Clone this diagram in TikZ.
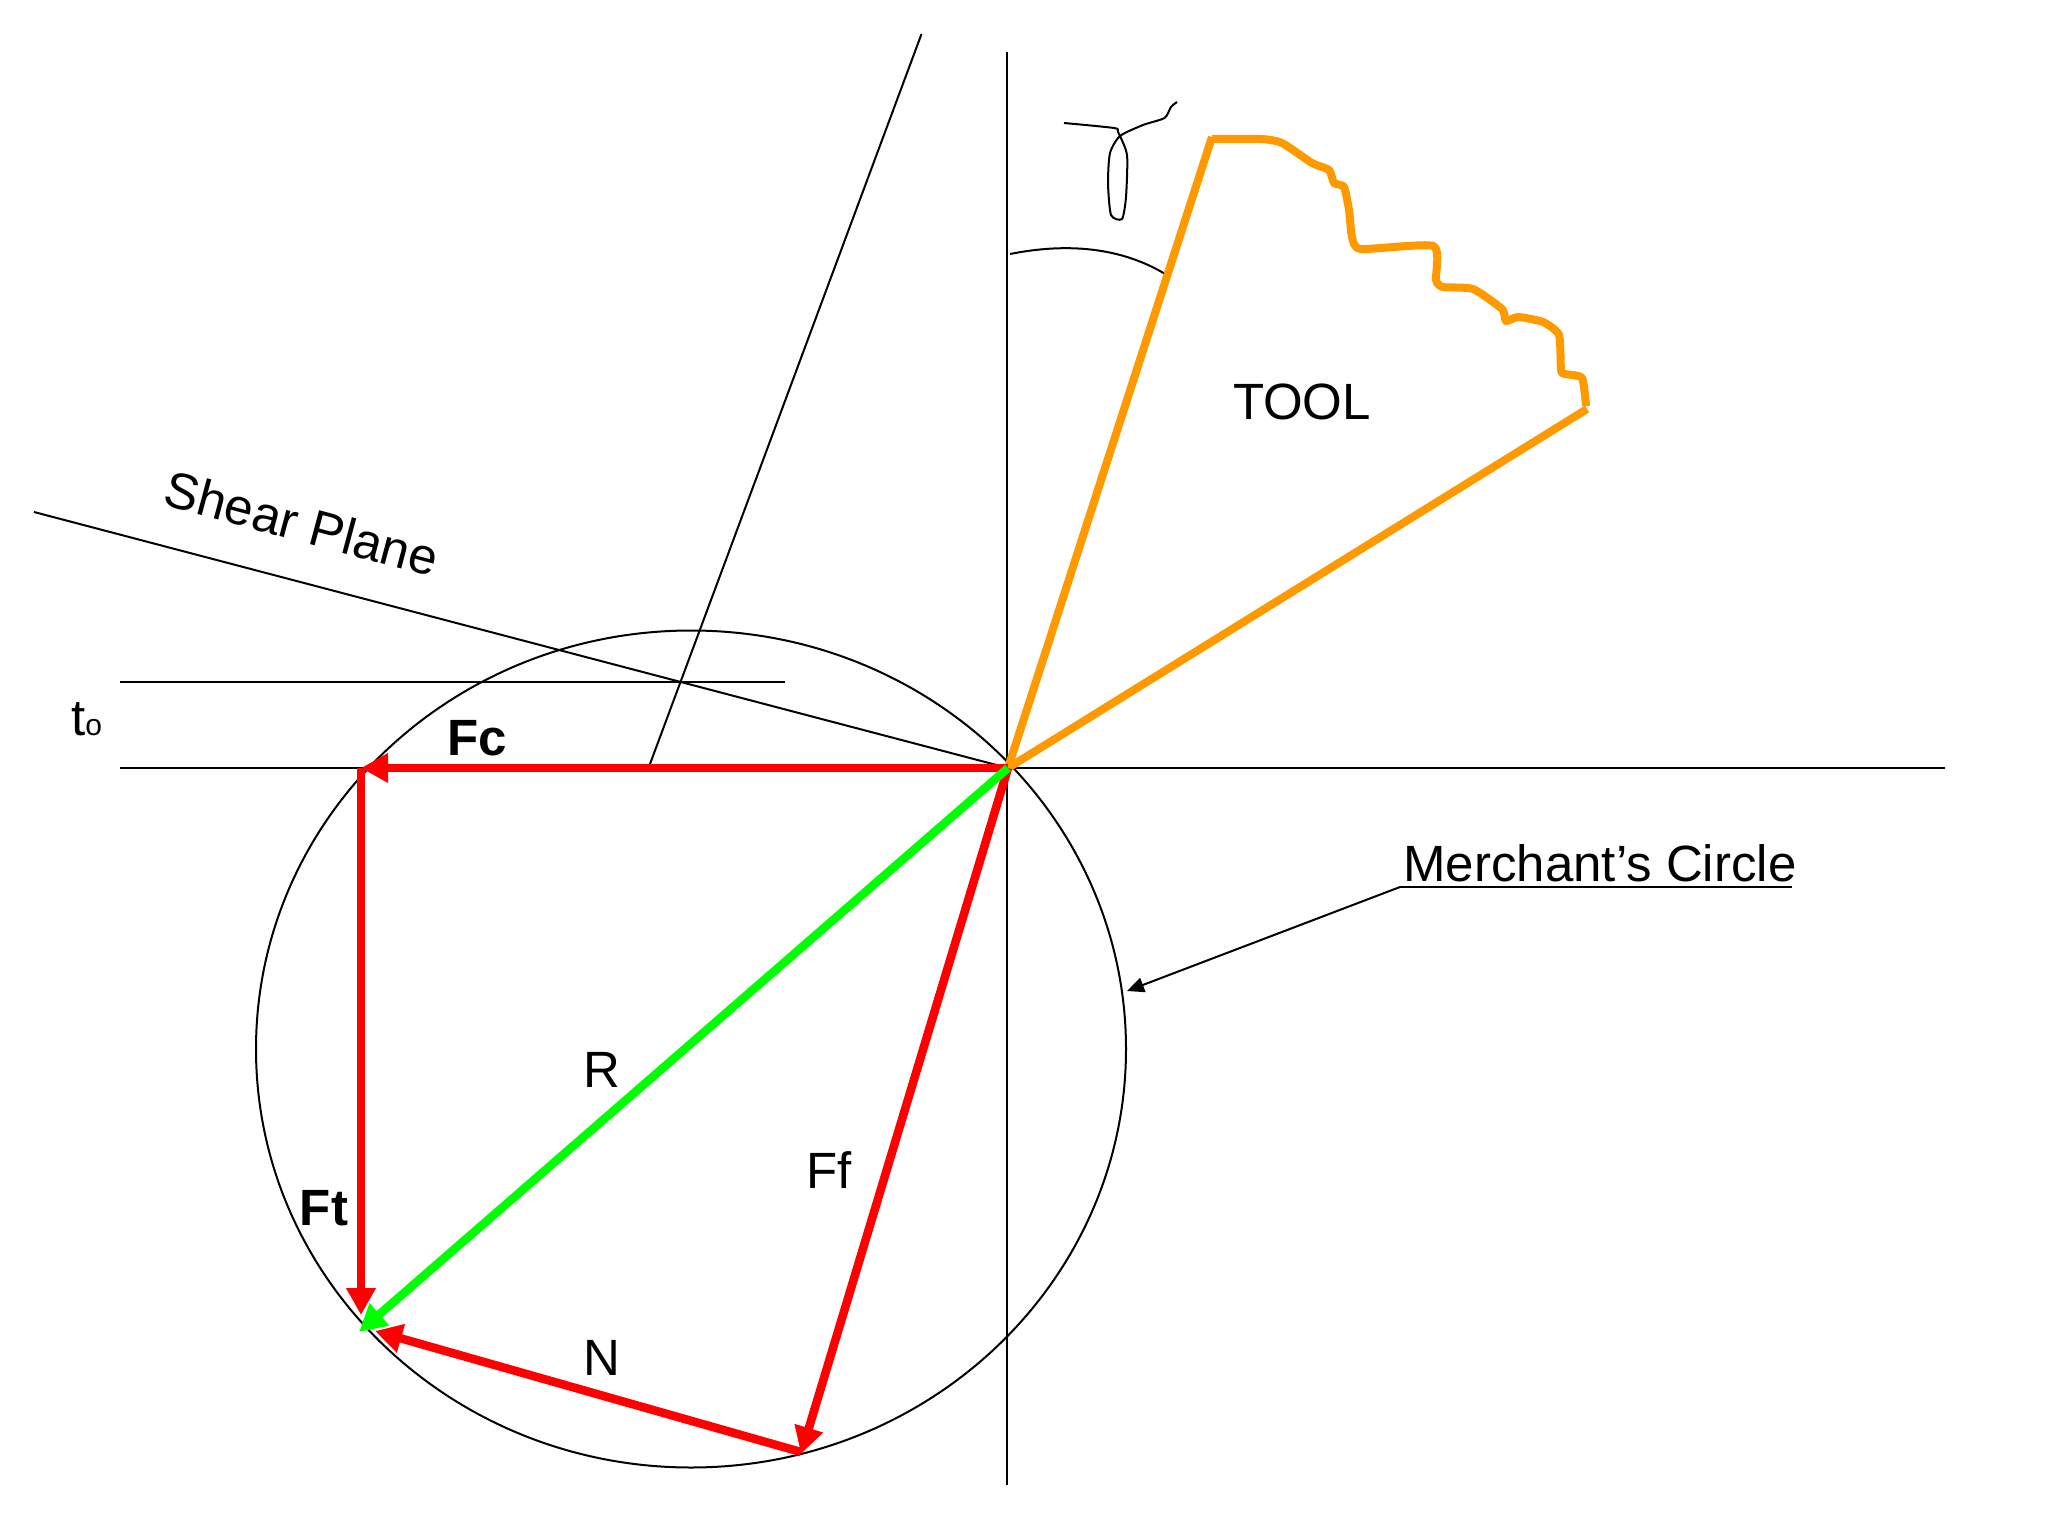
\documentclass[tikz,border=0pt]{standalone}
\usepackage{fontspec}
\setmainfont{Liberation Sans}
\usetikzlibrary{arrows.meta}
\definecolor{toolorange}{HTML}{FF9900}
\definecolor{forcered}{HTML}{FF0000}
\definecolor{forcegreen}{HTML}{00FF00}
\tikzset{
  x=1pt,y=-1pt,
  thinline/.style={draw=black,line width=2pt},
  toolline/.style={draw=toolorange,line width=8pt,line join=round},
  force/.style={line width=8.5pt,-{Triangle[length=27pt,width=28pt]}},
  txtlabel/.style={font=\fontsize{51}{60}\selectfont,inner sep=0pt,anchor=base,text=black},
  boldlabel/.style={txtlabel,font=\fontsize{51}{60}\selectfont\bfseries},
}
\begin{document}
\begin{tikzpicture}
\useasboundingbox[fill=white] (0,0) rectangle (2048,1536);
\coordinate (O) at (1008,768);
\coordinate (vtop) at (1007,52);
\coordinate (vbot) at (1007,1485);
\coordinate (hleft) at (120,768);
\coordinate (hright) at (1945,768);
\coordinate (tleft) at (120,682);
\coordinate (tright) at (785,682);
\coordinate (shearend) at (34,512);
\coordinate (normtop) at (921.5,34);
\coordinate (normbot) at (648.5,768);
\coordinate (fctip) at (361,768);
\coordinate (fttip) at (361,1315);
\coordinate (rtip) at (359,1332);
\coordinate (ffend) at (801,1454);
\coordinate (nstart) at (801,1452);
\coordinate (ntip) at (375,1331);
\coordinate (tooltip) at (1212,137);
\coordinate (toolend) at (1587,409);
\coordinate (ulleft) at (1400,887);
\coordinate (ulright) at (1792,887);
\coordinate (circlept) at (1127,991);
% lines
\draw[thinline] (vtop) -- (vbot);
\draw[thinline] (hleft) -- (hright);
\draw[thinline] (tleft) -- (tright);
\draw[thinline] (shearend) -- (O);
\draw[thinline] (normtop) -- (normbot);
% circle
\draw[thinline] (691,1049) ellipse [x radius=435,y radius=418.5];
% angle arc and hand mark
\draw[thinline] (1010,254) .. controls (1065,243) and (1122,246) .. (1170,277);
\draw[thinline,line join=round] plot[smooth,tension=0.4] coordinates {(1064,123) (1114,128) (1118,132) (1127,155) (1126,197) (1122,219) (1111,215) (1108,183) (1110,153) (1120,136) (1143,125) (1164.5,118) (1171,107) (1177,102)};
% tool
\draw[toolline] (O) -- (tooltip);
\draw[toolline] (toolend) -- (O);
\draw[toolline] plot[smooth,tension=0.35] coordinates {(1212,139) (1261,139) (1282,143) (1312,163) (1329,170) (1334,183) (1344,187) (1349,210) (1352,237) (1361,249) (1433.5,246) (1436,280) (1443,287) (1473,289) (1502,309) (1506,321) (1518,317) (1543,322) (1559,335) (1561,370) (1565,374) (1582,378) (1586,406)};
% forces
\draw[force,forcered] (O) -- (fctip);
\draw[force,forcered] (fctip) -- (fttip);
\draw[force,forcered] (O) -- (ffend);
\draw[force,forcered] (nstart) -- (ntip);
\draw[force,forcegreen] (O) -- (rtip);
% callout
\draw[thinline] (ulleft) -- (ulright);
\draw[thinline,-{Triangle[length=17pt,width=15pt]}] (ulleft) -- (circlept);
% labels
\node[txtlabel] (tool) at (1302,419) {TOOL};
\node[txtlabel] (merchant) at (1600,881) {Merchant’s Circle};
\node[txtlabel,rotate=-15] (shear) at (297,541) {Shear Plane};
\node[boldlabel] (fc) at (477,755) {Fc};
\node[boldlabel] (ft) at (324,1225) {Ft};
\node[txtlabel] (ff) at (829,1188) {Ff};
\node[txtlabel] (n) at (602,1375) {N};
\node[txtlabel] (r) at (602,1087) {R};
\node[txtlabel,anchor=base west] (to) at (71,735) {t{\fontsize{30}{30}\selectfont o}};
\end{tikzpicture}
\end{document}
